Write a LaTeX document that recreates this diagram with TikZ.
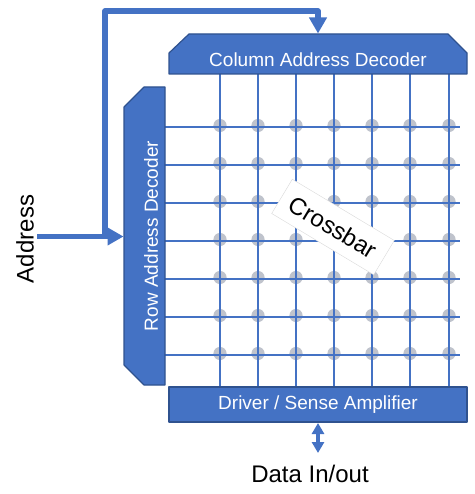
\documentclass[tikz,border=0pt]{standalone}
\usepackage{fontspec}
\setmainfont{Liberation Sans}
\usepackage{tikz}
\usetikzlibrary{arrows.meta, positioning, calc}
\usepackage{xcolor}
\definecolor{DBlue}{HTML}{4472C4}
\definecolor{DEdge}{HTML}{2F528F}
\definecolor{Cell}{HTML}{BFC3CC}
\tikzset{
  decoder/.style={draw=DEdge, fill=DBlue, line width=1.2pt, line join=round},
  decodertext/.style={text=white, font=\fontsize{19}{22}\selectfont, inner sep=0pt},
  wire/.style={draw=DBlue, line width=1.2pt},
  bus/.style={DBlue, line width=5.2pt, line join=round},
  label/.style={font=\fontsize{24}{28}\selectfont, inner sep=0pt}
}

\begin{document}
\begin{tikzpicture}[x=1pt, y=-1pt, >=Stealth]
  \useasboundingbox (0,0) rectangle (474,494);
  % Crosspoints
  \foreach \cx in {220,258,296,334,372,410,449}
    \foreach \ry in {127,165,203,241,279,317,355}
      \fill[Cell] (\cx,\ry-1.5) circle (6.6);
  % Wires
  \foreach \ry in {127,165,203,241,279,317,355}
    \draw[wire] (165,\ry) -- (460,\ry);
  \foreach \cx in {220,258,296,334,372,410,449}
    \draw[wire] (\cx,74) -- (\cx,387);
  % Decoders
  \draw[decoder] (169,53) -- (189,34) -- (448,34) -- (467,53) -- (467,74) -- (169,74) -- cycle;
  \node[decodertext] (coldec) at (318,59.5) {Column Address Decoder};
  \draw[decoder] (124,107) -- (144,87) -- (165,87) -- (165,385) -- (144,385) -- (124,365) -- cycle;
  \node[decodertext, rotate=90] (rowdec) at (151,236) {Row Address Decoder};
  \draw[decoder] (169,387) rectangle (467,422);
  \node[decodertext] (driver) at (318,404.5) {Driver / Sense Amplifier};
  % Crossbar tag
  \node[draw=black!15, fill=white, rotate=-31, minimum width=119pt, minimum height=40pt,
    label, inner sep=0pt] (xbar) at (333,227) {Crossbar};
  % Labels
  \node[label, rotate=90] (addr) at (25,239) {Address};
  \node[label] (data) at (310,474) {Data In/out};
  % Address buses
  \coordinate (rowin) at (123.5,236.5);
  \coordinate (colin) at (318,33.5);
  \coordinate (bustap) at (105,236.5);
  \coordinate (datatop) at (318,423);
  \coordinate (databot) at (318,453);
  \draw[bus, -{Triangle[length=16pt, width=17pt]}] (37,236.5) -- (rowin);
  \draw[bus, -{Triangle[length=16pt, width=17pt]}] (bustap) -- (105,11) -- (318,11) -- (colin);
  % Data arrow
  \draw[DBlue, line width=3.5pt, {Triangle[length=11pt, width=12pt]}-{Triangle[length=11pt, width=12pt]}] (datatop) -- (databot);
\end{tikzpicture}
\end{document}
